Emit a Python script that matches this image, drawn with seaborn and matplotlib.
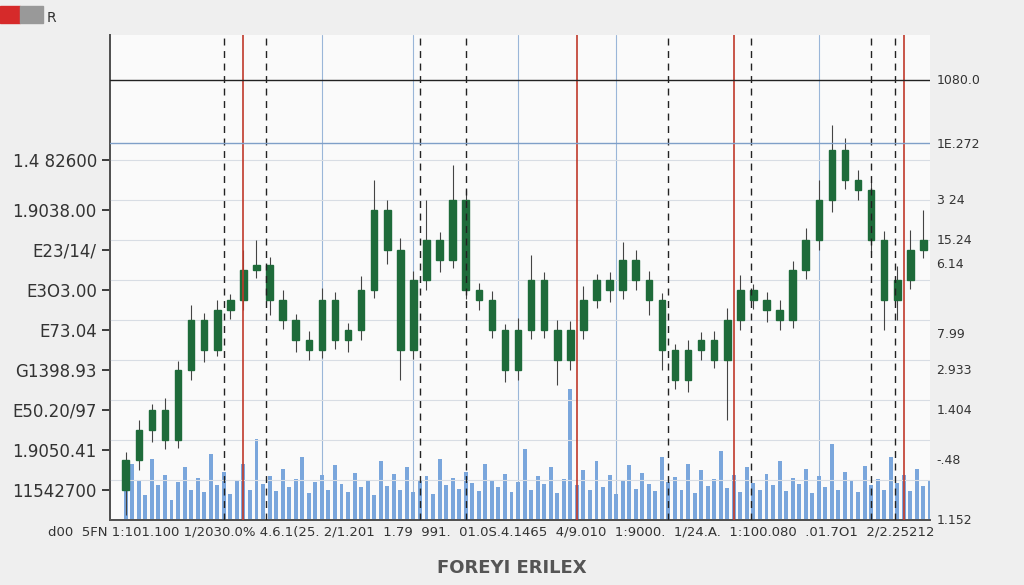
import numpy as np
import pandas as pd
import matplotlib
matplotlib.use("Agg")
import matplotlib.pyplot as plt
import seaborn as sns
from matplotlib.patches import Rectangle

closes = [140,170,190,160,230,280,250,290,300,330,335,300,280,260,250,300,260,270,310,390,
          350,250,320,360,340,400,310,300,270,230,270,320,270,240,270,300,320,310,340,320,
          300,250,220,250,260,240,280,310,300,290,280,330,360,400,450,420,410,360,300,320,350,360]
opens = [110] + closes[:-1]
wick_up = [8,10,6,12,9,15,7,10,6,20,25,8,10,6,9,12,8,7,14,30,10,12,9,40,8,35,10,7,9,6,
           12,25,8,10,9,14,6,8,18,10,9,7,6,10,8,9,12,15,6,8,10,9,12,20,25,12,10,8,9,14,20,30]
wick_dn = [25,10,12,9,8,10,12,6,9,10,8,15,9,12,10,8,9,12,10,8,14,30,9,10,12,8,9,10,8,12,
           10,9,8,25,10,9,8,12,9,10,15,20,9,12,10,8,60,10,9,12,10,8,9,10,12,9,10,12,30,20,9,8]

vol = [30,55,40,25,60,35,45,20,38,52,30,42,28,65,35,48,26,40,55,30,
       80,36,44,29,50,33,41,62,27,38,45,30,54,36,28,47,33,40,25,58,
       34,46,30,52,28,39,44,26,60,35,42,31,48,37,29,55,40,33,46,28,
       38,70,30,44,36,52,27,41,130,35,49,30,58,33,45,26,40,54,31,47,
       36,29,62,38,43,30,55,27,49,34,41,68,32,45,28,52,37,30,46,35,
       58,29,42,36,50,27,44,33,75,30,48,39,28,53,35,41,30,62,37,45,
       29,50,34,40]
vol_x = np.arange(len(vol)) * 0.5

left_labels = ["11542700","1.9050.41","E50.20/97","G1398.93","E73.04","E3O3.00","E23/14/","1.9038.00","1.4 82600"]
left_pos = [110,150,190,230,270,310,350,390,440]
right_labels = ["1.152","-.48","1.404","2.933","7.99","6.14","15.24","3 24","1E.272","1080.0"]
right_pos = [80,140,190,230,265,335,360,400,455,520]

red_lines = [9.0, 34.5, 46.5, 59.5]
dash_lines = [7.5, 10.7, 22.5, 26.0, 41.5, 47.8, 57.0, 58.8]
blue_lines = [15.0, 22.0, 30.0, 37.5, 53.0]

sns.set_theme(style="white")
fig = plt.figure(figsize=(10.24, 5.85), dpi=100, facecolor="#efefef")
ax = fig.add_axes([110/1024, 65/585, 820/1024, 485/585])
ax2 = ax.twinx()
ax2.set_zorder(1)
ax.set_zorder(2)
ax.patch.set_visible(False)
ax2.patch.set_visible(True)
ax2.patch.set_facecolor("#fafafa")

x = np.arange(len(closes))
for xi, o, c, wu, wd in zip(x, opens, closes, wick_up, wick_dn):
    lo, hi = min(o, c), max(o, c)
    ax.vlines(xi, lo - wd, hi + wu, color="#444444", lw=0.8, zorder=3)
    ax.add_patch(Rectangle((xi - 0.25, lo), 0.5, max(hi - lo, 2), color="#1e6b3a", zorder=4))

sns.barplot(x=vol_x, y=vol, native_scale=True, ax=ax2, color="#7aa6dc",
            saturation=1, width=0.6, linewidth=0, zorder=2)
ax2.set_ylim(0, 480)
ax2.set_xlim(-1.2, 61.5)
ax2.set_yticks([])
ax2.set_ylabel("")

for v in red_lines:
    ax.axvline(v, color="#c0392b", lw=1.2, zorder=5)
for v in dash_lines:
    ax.axvline(v, color="#222222", lw=1, ls=(0, (5, 4)), zorder=5)
for v in blue_lines:
    ax2.axvline(v, color="#9ab6d8", lw=0.8, zorder=1)
for y in [120, 160, 200, 240, 280, 320, 360, 400, 440]:
    ax.axhline(y, color="#d8dde4", lw=0.8, zorder=0)
ax.axhline(520, color="#222222", lw=1, zorder=5)
ax.axhline(457, color="#7f9fc8", lw=1, zorder=5)

ax.set_xlim(-1.2, 61.5)
ax.set_ylim(80, 565)
ax.set_yticks(left_pos)
ax.set_yticklabels(left_labels, fontsize=12, color="#333333")
ax.set_xticks([])
for s in ["top", "right"]:
    ax.spines[s].set_visible(False)
ax2.spines["top"].set_visible(False)
ax2.spines["right"].set_visible(False)
ax.spines["left"].set_color("#555555")
ax.spines["bottom"].set_color("#555555")

for lab, p in zip(right_labels, right_pos):
    ax.text(62.0, p, lab, fontsize=9, color="#333333", va="center", ha="left")

fig.text(0.48, 0.085, "d00  5FN 1:101.100 1/2030.0% 4.6.1(25. 2/1.201  1.79  991.  01.0S.4.1465  4/9.010  1:9000.  1/24.A.  1:100.080  .01.7O1  2/2.25212",
         ha="center", fontsize=9.5, color="#333333")
fig.text(0.5, 0.02, "FOREYI ERILEX", ha="center", fontsize=13, fontweight="bold", color="#555555")
fig.patches.append(Rectangle((0, 0.96), 0.02, 0.03, color="#d62a2a", transform=fig.transFigure))
fig.patches.append(Rectangle((0.02, 0.96), 0.022, 0.03, color="#999999", transform=fig.transFigure))
fig.text(0.046, 0.962, "R", fontsize=10, color="#333333")
fig.savefig("out.png", dpi=100, facecolor=fig.get_facecolor())
